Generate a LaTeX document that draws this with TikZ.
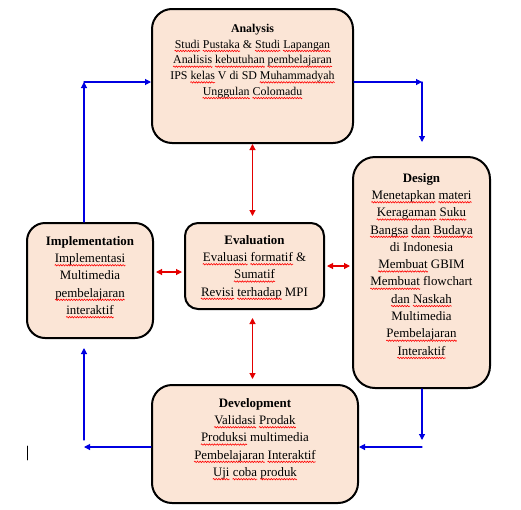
\documentclass[tikz,border=0pt]{standalone}
\usepackage{fontspec}
\setmainfont{Liberation Serif}
\usetikzlibrary{arrows.meta,positioning,decorations.pathmorphing}
\definecolor{boxfill}{RGB}{251,229,214}
\definecolor{flowblue}{RGB}{0,0,225}
\definecolor{linkred}{RGB}{228,0,0}
% garis gelombang merah di bawah kata
\newcommand\redwave[1]{\tikz[baseline=(wv.base)]{\node[inner sep=0pt] (wv) {#1};
  \draw[overlay, red, line width=0.6pt, line cap=butt, decorate, decoration={snake, amplitude=0.7pt, segment length=2.6pt}]
    ([yshift=-2.8pt]wv.base west) -- ([yshift=-2.8pt]wv.base east);}}

\begin{document}
\begin{tikzpicture}[x=1pt, y=-1pt, >={Triangle[length=6pt,width=6pt]}, line cap=round,
  stage/.style={draw, line width=2pt, fill=boxfill, inner sep=0pt},
  body/.style={align=center, inner sep=0pt, font=\fontsize{12.9}{17.3}\selectfont},
  blueflow/.style={flowblue, line width=1.1pt, ->},
  redlink/.style={linkred, line width=1.1pt, <->}]
\useasboundingbox (0,0) rectangle (521,509);
% kotak tahap ADDIE
\node[stage, rounded corners=20pt, minimum width=201pt, minimum height=134pt] (analysis) at (252.5,76) {};
\node[stage, rounded corners=22pt, minimum width=137pt, minimum height=231pt] (design) at (421.5,272.5) {};
\node[stage, rounded corners=13pt, minimum width=139pt, minimum height=86pt] (evaluation) at (254.5,266) {};
\node[stage, rounded corners=18pt, minimum width=126pt, minimum height=115pt] (implementation) at (90,280.5) {};
\node[stage, rounded corners=20pt, minimum width=206pt, minimum height=118pt] (development) at (255,444) {};
% isi teks
\node[body, font=\fontsize{11.9}{15.7}\selectfont, below=16pt of analysis.north] (analysistxt)
  {\textbf{Analysis}\\
   \redwave{Studi} \redwave{Pustaka} \& \redwave{Studi} \redwave{Lapangan}\\
   \redwave{Analisis} \redwave{kebutuhan} \redwave{pembelajaran}\\
   IPS \redwave{kelas} V di SD \redwave{Muhammadyah}\\
   \redwave{Unggulan} \redwave{Colomadu}};
\node[body, below=17pt of design.north] (designtxt)
  {\textbf{Design}\\
   \redwave{Menetapkan} \redwave{materi}\\
   \redwave{Keragaman} \redwave{Suku}\\
   \redwave{Bangsa} \redwave{dan} \redwave{Budaya}\\
   di Indonesia\\
   \redwave{Membuat} GBIM\\
   \redwave{Membuat} flowchart\\
   \redwave{dan} \redwave{Naskah}\\
   Multimedia\\
   \redwave{Pembelajaran}\\
   \redwave{Interaktif}};
\node[body, below=13pt of evaluation.north] (evaluationtxt)
  {\textbf{Evaluation}\\
   \redwave{Evaluasi} \redwave{formatif} \&\\
   \redwave{Sumatif}\\
   \redwave{Revisi} \redwave{terhadap} MPI};
\node[body, below=14pt of implementation.north] (implementationtxt)
  {\textbf{Implementation}\\
   \redwave{Implementasi}\\
   Multimedia\\
   \redwave{pembelajaran}\\
   \redwave{interaktif}};
\node[body, below=14pt of development.north] (developmenttxt)
  {\textbf{Development}\\
   \redwave{Validasi} \redwave{Prodak}\\
   \redwave{Produksi} multimedia\\
   \redwave{Pembelajaran} \redwave{Interaktif}\\
   \redwave{Uji} \redwave{coba} \redwave{produk}};
% titik belok alur biru
\coordinate (cAD) at (422,82);
\coordinate (cDD) at (422,447);
\coordinate (cDI) at (84,447);
\coordinate (cIA) at (84,82);
% alur biru
\draw[blueflow] (analysis.east |- cAD) -- (cAD);
\draw[blueflow, shorten >=14pt] (cAD) -- (cAD |- design.north);
\draw[blueflow, shorten >=7pt] (cDD |- design.south) -- (cDD);
\draw[blueflow] (cDD) -- (cDD -| development.east);
\draw[blueflow] (development.west |- cDI) -- (cDI);
\draw[blueflow, shorten <=7pt, shorten >=9pt] (cDI) -- (cDI |- implementation.south);
\draw[blueflow] (cIA |- implementation.north) -- (cIA);
\draw[blueflow] (cIA) -- (cIA -| analysis.west);
% hubungan evaluasi (merah)
\draw[redlink, shorten >=6pt] (analysis.south) -- (analysis.south |- evaluation.north);
\draw[redlink, shorten <=8pt, shorten >=5pt] ([xshift=-2pt]evaluation.south) -- ([xshift=-2pt]evaluation.south |- development.north);
\draw[redlink, shorten <=2pt, shorten >=2pt] ([yshift=-6pt]evaluation.west) -- ([yshift=-6pt]evaluation.west -| implementation.east);
\draw[redlink, shorten <=2pt, shorten >=2pt] (evaluation.east) -- (evaluation.east -| design.west);
% kursor
\draw[line width=0.8pt] (27,446) -- (27,460);
\end{tikzpicture}
\end{document}
